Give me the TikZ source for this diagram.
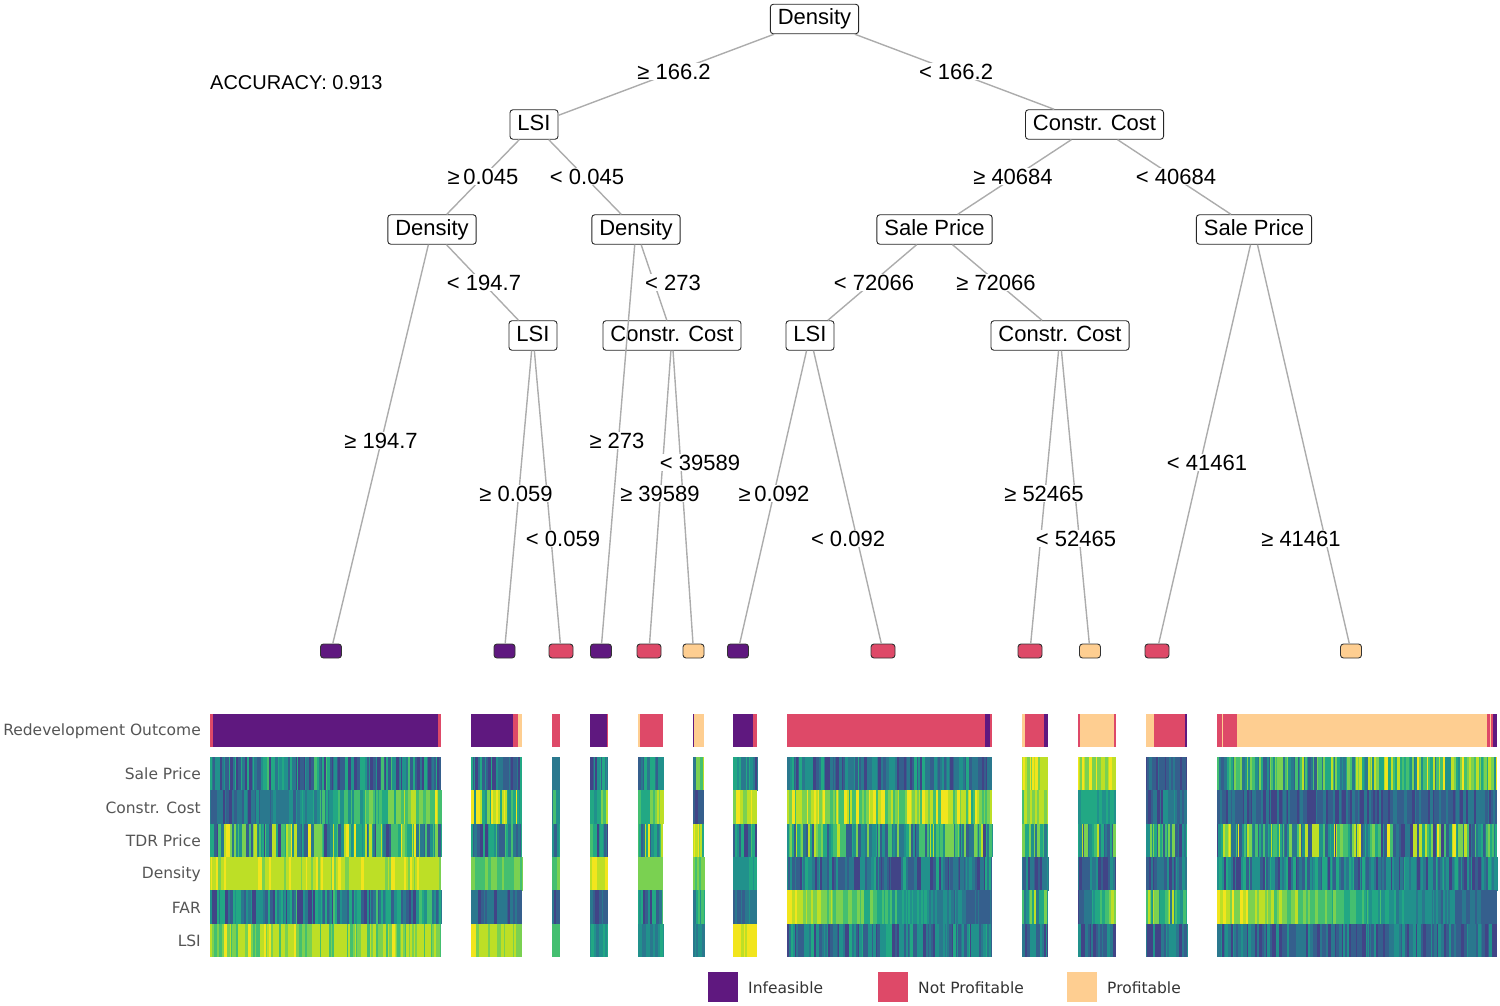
\documentclass[tikz,border=0pt]{standalone}
\usepackage{fontspec}
\setmainfont{Liberation Sans}
\newfontfamily\dejavu{DejaVu Sans}
\definecolor{cinf}{RGB}{95,24,127}
\definecolor{cnp}{RGB}{222,73,104}
\definecolor{cpr}{RGB}{254,206,145}
\definecolor{edgegray}{RGB}{172,172,172}
\definecolor{labgray}{RGB}{85,85,85}
\definecolor{vir0}{HTML}{414487}
\definecolor{vir1}{HTML}{355F8D}
\definecolor{vir2}{HTML}{2A788E}
\definecolor{vir3}{HTML}{21918C}
\definecolor{vir4}{HTML}{22A884}
\definecolor{vir5}{HTML}{44BF70}
\definecolor{vir6}{HTML}{7AD151}
\definecolor{vir7}{HTML}{BDDF26}
\definecolor{vir8}{HTML}{F2E51D}
% x0 x1 ytop mean0 mean1 spread
\newcommand\hmrow[6]{%
  \pgfmathsetmacro\hmX{#1}%
  \loop
    \pgfmathsetmacro\hmW{0.8+2.4*rnd}%
    \pgfmathsetmacro\hmE{min(\hmX+\hmW,#2)}%
    \pgfmathsetmacro\hmT{(\hmX-#1)/(#2-#1)}%
    \pgfmathtruncatemacro\hmK{max(0,min(8,round(#4+(#5-#4)*\hmT+#6*rand)))}%
    \fill[vir\hmK] (\hmX,#3) rectangle (\hmE,#3+33.6);%
    \let\hmX\hmE
  \ifdim\hmX pt<#2pt\repeat
}
\begin{document}
\begin{tikzpicture}[x=1pt,y=-1pt,
  tnode/.style={draw=black!85, line width=0.9pt, rounded corners=3pt, fill=white,
    font=\fontsize{22}{24}\selectfont, inner xsep=7.5pt, inner ysep=4.5pt,
    text height=16pt, text depth=4.5pt},
  leafbox/.style={draw=black!80, line width=0.9pt, rounded corners=3pt,
    minimum width=21pt, minimum height=14pt, inner sep=0pt},
  wleaf/.style={leafbox, minimum width=24pt},
  tedge/.style={draw=edgegray, line width=1.4pt},
  elab/.style={fill=white, inner sep=1pt, font=\fontsize{22}{24}\selectfont},
  hml/.style={anchor=east, font=\dejavu\fontsize{15.5}{17}\selectfont, text=labgray, inner sep=0pt},
  legt/.style={anchor=west, font=\dejavu\fontsize{15.5}{17}\selectfont, text=black!80, inner sep=0pt},
  legkey/.style={fill=#1, minimum size=30pt, inner sep=0pt}
]
\useasboundingbox (0,0) rectangle (1500,1006);
\pgfmathsetseed{4242}

% ---------- tree nodes ----------
\node[tnode] (root) at (814.5,19) {Density};
\node[tnode] (lsiA) at (534,124.5) {LSI};
\node[tnode] (ccA) at (1094.5,124.5) {Constr. Cost};
\node[tnode] (denL) at (432,229.5) {Density};
\node[tnode] (denM) at (636,229.5) {Density};
\node[tnode] (spA) at (934.5,229.5) {Sale Price};
\node[tnode] (spB) at (1254,229.5) {Sale Price};
\node[tnode] (lsiB) at (533,335.5) {LSI};
\node[tnode] (ccB) at (672,335.5) {Constr. Cost};
\node[tnode] (lsiC) at (810,335.5) {LSI};
\node[tnode] (ccC) at (1060,335.5) {Constr. Cost};

\node[leafbox, fill=cinf] (lf1) at (331,651) {};
\node[leafbox, fill=cinf] (lf2) at (504.5,651) {};
\node[wleaf, fill=cnp] (lf3) at (561,651) {};
\node[leafbox, fill=cinf] (lf4) at (601,651) {};
\node[wleaf, fill=cnp] (lf5) at (649,651) {};
\node[leafbox, fill=cpr] (lf6) at (693.5,651) {};
\node[leafbox, fill=cinf] (lf7) at (738,651) {};
\node[wleaf, fill=cnp] (lf8) at (883,651) {};
\node[wleaf, fill=cnp] (lf9) at (1030,651) {};
\node[leafbox, fill=cpr] (lf10) at (1090,651) {};
\node[wleaf, fill=cnp] (lf11) at (1157,651) {};
\node[leafbox, fill=cpr] (lf12) at (1351,651) {};

% ---------- edges ----------
\draw[tedge] (root) -- (lsiA);
\draw[tedge] (root) -- (ccA);
\draw[tedge] (lsiA) -- (denL);
\draw[tedge] (lsiA) -- (denM);
\draw[tedge] (ccA) -- (spA);
\draw[tedge] (ccA) -- (spB);
\draw[tedge] (denL) -- (lf1);
\draw[tedge] (denL) -- (lsiB);
\draw[tedge] (lsiB) -- (lf2);
\draw[tedge] (lsiB) -- (lf3);
\draw[tedge] (denM) -- (lf4);
\draw[tedge] (denM) -- (ccB);
\draw[tedge] (ccB) -- (lf5);
\draw[tedge] (ccB) -- (lf6);
\draw[tedge] (spA) -- (lsiC);
\draw[tedge] (spA) -- (ccC);
\draw[tedge] (lsiC) -- (lf7);
\draw[tedge] (lsiC) -- (lf8);
\draw[tedge] (ccC) -- (lf9);
\draw[tedge] (ccC) -- (lf10);
\draw[tedge] (spB) -- (lf11);
\draw[tedge] (spB) -- (lf12);

% ---------- edge labels ----------
\node[elab] (e1) at (674,71.5) {≥ 166.2};
\node[elab] (e2) at (956,71.5) {< 166.2};
\node[elab] (e3) at (483,176.5) {≥\,0.045};
\node[elab] (e4) at (587,176.5) {< 0.045};
\node[elab] (e5) at (1013,176.5) {≥ 40684};
\node[elab] (e6) at (1176,176.5) {< 40684};
\node[elab] (e7) at (484,282.5) {< 194.7};
\node[elab] (e8) at (673,282.5) {< 273};
\node[elab] (e9) at (874,282.5) {< 72066};
\node[elab] (e10) at (996,282.5) {≥ 72066};
\node[elab] (e11) at (381,440.5) {≥ 194.7};
\node[elab] (e12) at (617,440.5) {≥ 273};
\node[elab] (e13) at (700,462.5) {< 39589};
\node[elab] (e14) at (660,493.5) {≥ 39589};
\node[elab] (e15) at (516,493.5) {≥ 0.059};
\node[elab] (e16) at (563,538.5) {< 0.059};
\node[elab] (e17) at (774,493.5) {≥\,0.092};
\node[elab] (e18) at (848,538.5) {< 0.092};
\node[elab] (e19) at (1044,493.5) {≥ 52465};
\node[elab] (e20) at (1076,538.5) {< 52465};
\node[elab] (e21) at (1207,462.5) {< 41461};
\node[elab] (e22) at (1301,538.5) {≥ 41461};

\node[anchor=west, inner sep=0pt, font=\fontsize{20}{22}\selectfont] (acc) at (210,82.5) {ACCURACY: 0.913};

% ---------- heatmap labels ----------
\node[hml] (hRO) at (201,731) {Redevelopment Outcome};
\node[hml] (hSP) at (201,774) {Sale Price};
\node[hml] (hCC) at (201,807.5) {Constr. Cost};
\node[hml] (hTDR) at (201,841) {TDR Price};
\node[hml] (hDen) at (201,874) {Density};
\node[hml] (hFAR) at (201,907.5) {FAR};
\node[hml] (hLSI) at (201,941) {LSI};

% ---------- legend ----------
\node[legkey=cinf] (kInf) at (723,987) {};
\node[legt] (tInf) at (748,987.5) {Infeasible};
\node[legkey=cnp] (kNP) at (892.5,987) {};
\node[legt] (tNP) at (918,987.5) {Not Profitable};
\node[legkey=cpr] (kPr) at (1082,987) {};
\node[legt] (tPr) at (1107,987.5) {Profitable};

% ---------- outcome bar ----------
\fill[cnp] (210,714) rectangle (213,747);
\fill[cinf] (213,714) rectangle (438,747);
\fill[cnp] (438,714) rectangle (441,747);
\fill[cinf] (471,714) rectangle (513,747);
\fill[cnp] (513,714) rectangle (518,747);
\fill[cpr] (518,714) rectangle (522,747);
\fill[cnp] (552,714) rectangle (560,747);
\fill[cinf] (590,714) rectangle (606.5,747);
\fill[cnp] (606.5,714) rectangle (608,747);
\fill[cpr] (638,714) rectangle (639.5,747);
\fill[cnp] (639.5,714) rectangle (663,747);
\fill[cinf] (693,714) rectangle (694,747);
\fill[cpr] (694,714) rectangle (704,747);
\fill[cinf] (733,714) rectangle (753,747);
\fill[cnp] (753,714) rectangle (757,747);
\fill[cnp] (787,714) rectangle (985,747);
\fill[cinf] (985,714) rectangle (990,747);
\fill[cnp] (990,714) rectangle (992,747);
\fill[cpr] (1022,714) rectangle (1025,747);
\fill[cnp] (1025,714) rectangle (1044,747);
\fill[cinf] (1044,714) rectangle (1048,747);
\fill[cnp] (1078,714) rectangle (1080,747);
\fill[cpr] (1080,714) rectangle (1114,747);
\fill[cnp] (1114,714) rectangle (1116,747);
\fill[cpr] (1146,714) rectangle (1154,747);
\fill[cnp] (1154,714) rectangle (1185,747);
\fill[cinf] (1185,714) rectangle (1187,747);
\fill[cnp] (1217,714) rectangle (1222,747);
\fill[cpr] (1222,714) rectangle (1223,747);
\fill[cnp] (1223,714) rectangle (1237,747);
\fill[cpr] (1237,714) rectangle (1487,747);
\fill[cnp] (1487,714) rectangle (1490,747);
\fill[cpr] (1490,714) rectangle (1491,747);
\fill[cnp] (1491,714) rectangle (1493,747);
\fill[cinf] (1493,714) rectangle (1497,747);

% ---------- heatmap rows ----------
% seg1
\hmrow{210}{441}{757}{2}{2}{2.8}
\hmrow{210}{441}{790.3}{0.5}{6.5}{1.5}
\hmrow{210}{441}{823.7}{4}{4}{4}
\hmrow{210}{441}{857}{7}{7}{0.7}
\hmrow{210}{441}{890.3}{2}{2.5}{2.5}
\hmrow{210}{441}{923.7}{6.2}{6.2}{1.5}
% seg2
\hmrow{471}{522}{757}{2}{2}{2.5}
\hmrow{471}{522}{790.3}{5.5}{5.5}{3}
\hmrow{471}{522}{823.7}{2}{3}{2.5}
\hmrow{471}{522}{857}{5.5}{5.5}{0.5}
\hmrow{471}{522}{890.3}{1}{1}{1.5}
\hmrow{471}{522}{923.7}{7}{6}{1}
% seg3
\hmrow{552}{560}{757}{2}{2}{1.5}
\hmrow{552}{560}{790.3}{3}{3}{3}
\hmrow{552}{560}{823.7}{3}{3}{2}
\hmrow{552}{560}{857}{5.5}{5.5}{0.5}
\hmrow{552}{560}{890.3}{1.5}{1.5}{1.5}
\hmrow{552}{560}{923.7}{4.5}{4.5}{0.5}
% seg4
\hmrow{590}{608}{757}{2}{2}{2}
\hmrow{590}{608}{790.3}{3}{7}{1}
\hmrow{590}{608}{823.7}{2.5}{2.5}{2.5}
\hmrow{590}{608}{857}{7.5}{7.5}{0.5}
\hmrow{590}{608}{890.3}{0.5}{0.5}{1.5}
\hmrow{590}{608}{923.7}{3}{3}{0.8}
% seg5
\hmrow{638}{663}{757}{3}{3}{2.5}
\hmrow{638}{663}{790.3}{4}{7}{1}
\hmrow{638}{663}{823.7}{4}{4}{4}
\hmrow{638}{663}{857}{6}{6}{0.5}
\hmrow{638}{663}{890.3}{2.5}{2.5}{3.5}
\hmrow{638}{663}{923.7}{3}{3}{1}
% seg6
\hmrow{693}{704}{757}{5}{5}{3}
\hmrow{693}{704}{790.3}{0.5}{0.5}{0.5}
\hmrow{693}{704}{823.7}{6}{6}{2}
\hmrow{693}{704}{857}{5.5}{5.5}{0.5}
\hmrow{693}{704}{890.3}{2.5}{2.5}{3}
\hmrow{693}{704}{923.7}{2.5}{2.5}{0.5}
% seg7
\hmrow{733}{757}{757}{5}{1}{1.5}
\hmrow{733}{757}{790.3}{6.5}{6.5}{1.5}
\hmrow{733}{757}{823.7}{3}{3}{3}
\hmrow{733}{757}{857}{3.5}{3.5}{0.5}
\hmrow{733}{757}{890.3}{1.5}{1.5}{1.5}
\hmrow{733}{757}{923.7}{7.7}{7.7}{0.4}
% seg8
\hmrow{787}{992}{757}{1.8}{1.8}{2}
\hmrow{787}{992}{790.3}{6.3}{6.3}{2}
\hmrow{787}{992}{823.7}{4.5}{3.5}{3.5}
\hmrow{787}{992}{857}{1.8}{1.8}{2}
\hmrow{787}{992}{890.3}{7.3}{1}{1}
\hmrow{787}{992}{923.7}{1.8}{1.8}{2}
% seg9
\hmrow{1022}{1048}{757}{7}{7}{1.5}
\hmrow{1022}{1048}{790.3}{6}{6}{1}
\hmrow{1022}{1048}{823.7}{4}{4}{2.5}
\hmrow{1022}{1048}{857}{1.5}{1.5}{1.5}
\hmrow{1022}{1048}{890.3}{4.5}{4.5}{3}
\hmrow{1022}{1048}{923.7}{1.5}{1.5}{2}
% seg10
\hmrow{1078}{1116}{757}{7}{7}{1.5}
\hmrow{1078}{1116}{790.3}{3.5}{3.5}{0.4}
\hmrow{1078}{1116}{823.7}{4}{4}{3}
\hmrow{1078}{1116}{857}{1.5}{1.5}{1.5}
\hmrow{1078}{1116}{890.3}{0.5}{7}{1}
\hmrow{1078}{1116}{923.7}{1.5}{1.5}{2}
% seg11
\hmrow{1146}{1187}{757}{1}{1}{1}
\hmrow{1146}{1187}{790.3}{1.5}{1.5}{1.5}
\hmrow{1146}{1187}{823.7}{4}{3}{3}
\hmrow{1146}{1187}{857}{1.5}{1.5}{1.5}
\hmrow{1146}{1187}{890.3}{4.5}{4.5}{2.5}
\hmrow{1146}{1187}{923.7}{1.5}{1.5}{2}
% seg12
\hmrow{1217}{1497}{757}{3.5}{5.5}{3}
\hmrow{1217}{1497}{790.3}{1}{1}{1.5}
\hmrow{1217}{1497}{823.7}{4}{4}{4}
\hmrow{1217}{1497}{857}{2}{2}{2}
\hmrow{1217}{1497}{890.3}{7.5}{1}{1}
\hmrow{1217}{1497}{923.7}{1.5}{1.5}{2}
\end{tikzpicture}
\end{document}
